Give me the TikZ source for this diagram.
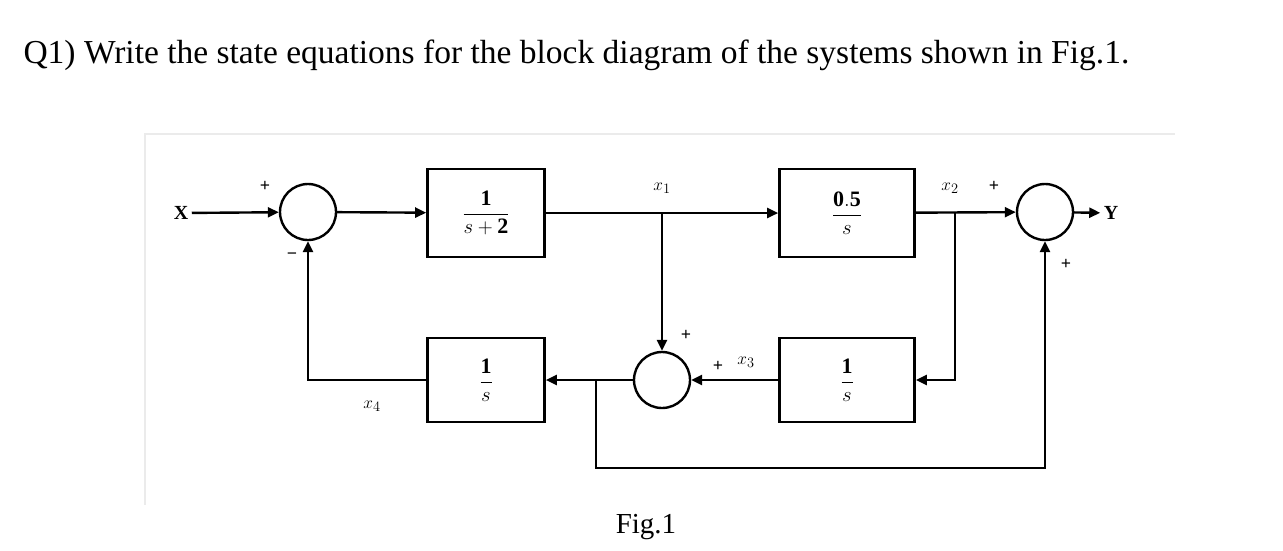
\documentclass[tikz,border=0pt]{standalone}
\usepackage{fontspec}
\setmainfont{Liberation Serif}
\usetikzlibrary{arrows.meta}
\begin{document}
\begin{tikzpicture}[x=1pt,y=-1pt,
  blk/.style={draw,line width=2.6pt,minimum width=#1,minimum height=88pt,inner sep=0pt,font=\bfseries\fontsize{22}{22}\selectfont},
  sum/.style={draw,circle,line width=2.4pt,minimum size=56pt,inner sep=0pt},
  ln/.style={line width=2.4pt},
  ar/.style={ln,-{Triangle[length=11pt,width=10pt]}},
  lab/.style={font=\bfseries\fontsize{20}{20}\selectfont},
  sg/.style={font=\bfseries\fontsize{18}{18}\selectfont},
  xl/.style={font=\fontsize{19}{19}\selectfont}]
\useasboundingbox (0,0) rectangle (1283,550);
\draw[black!8,line width=1.5pt] (145,505) -- (145,134) -- (1175,134);
\node[anchor=west,font=\fontsize{33.5}{33.5}\selectfont] (title) at (20,55) {Q1) Write the state equations for the block diagram of the systems shown in Fig.1.};
\node[font=\fontsize{29}{29}\selectfont] (fig) at (646,527) {Fig.1};
\node[lab] (X) at (181,213) {X};
\node[sum] (s1) at (308,212) {};
\node[blk=117pt] (b1) at (486,213) {$\displaystyle\frac{\mathbf 1}{s+\mathbf 2}$};
\node[blk=135pt] (b2) at (847,213) {$\displaystyle\frac{\mathbf{0.5}}{s}$};
\node[sum] (s2) at (1045,212) {};
\node[lab] (Y) at (1111,213) {Y};
\node[blk=117pt,minimum height=84pt] (b3) at (486,380) {$\displaystyle\frac{\mathbf 1}{s}$};
\node[blk=135pt,minimum height=84pt] (b4) at (847,380) {$\displaystyle\frac{\mathbf 1}{s}$};
\node[sum] (s3) at (662,380) {};
\coordinate (p1) at (662,213);
\coordinate (p2) at (955,213);
\coordinate (p3) at (596,380);
\draw[ar] (X) -- (s1);
\draw[ar] (s1) -- (b1);
\draw[ar] (b1) -- (b2);
\draw[ar] (b2) -- (s2);
\draw[ar] (s2) -- (Y);
\draw[ar] (p1) -- (s3);
\draw[ar] (p2) |- (b4.east);
\draw[ar] (b4) -- (s3);
\draw[ar] (s3) -- (b3);
\draw[ar] (b3.west) -| (s1.south);
\draw[ar] (p3) -- (596,468) -| (s2.south);
\node[sg] at (265,186) {+};
\node[sg] at (292,256) {\textminus};
\node[xl] at (662,188) {$x_1$};
\node[xl] at (950,188) {$x_2$};
\node[sg] at (994,186) {+};
\node[sg] at (1066,264) {+};
\node[sg] at (686,335) {+};
\node[sg] at (718,366) {+};
\node[xl] at (746,362) {$x_3$};
\node[xl] at (372,406) {$x_4$};
\end{tikzpicture}
\end{document}
